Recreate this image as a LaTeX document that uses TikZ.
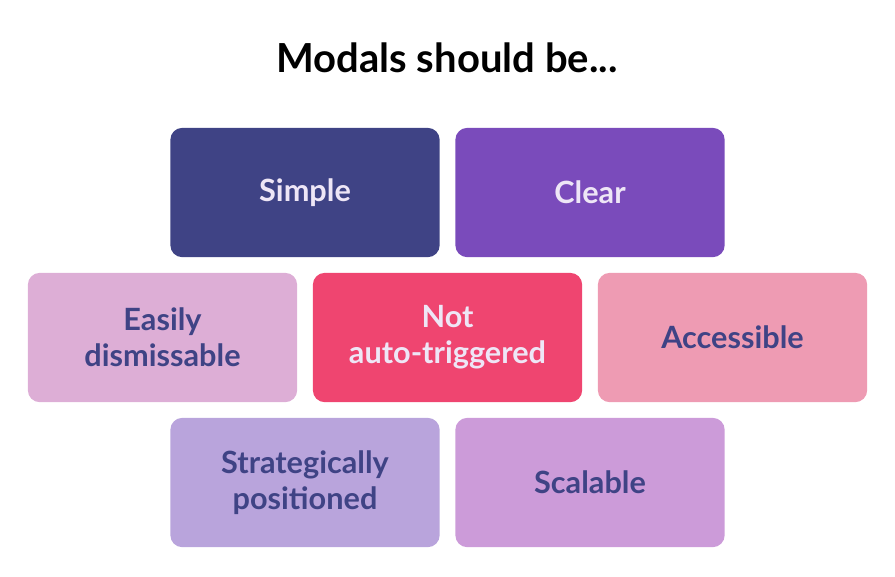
\documentclass[tikz,border=0pt]{standalone}
\usepackage{fontspec}
\setmainfont{Lato}
\definecolor{navy}{HTML}{3F4385}
\definecolor{violet}{HTML}{7A4BBB}
\definecolor{lilac}{HTML}{DDAED6}
\definecolor{rose}{HTML}{EF4570}
\definecolor{blush}{HTML}{EE9BB3}
\definecolor{lavender}{HTML}{B9A4DC}
\definecolor{orchid}{HTML}{CC9BD9}
\definecolor{paletext}{HTML}{EEE6F6}
\begin{document}
\begin{tikzpicture}[
        x=0.75pt, y=-0.75pt,
        % boxes with rounded corners
        card/.style={
            rounded corners=9pt,
            minimum width=202pt,
            minimum height=97pt,
            align=center,
            inner sep=0pt,
            font=\fontsize{23}{27}\selectfont\bfseries
        },
        darkcard/.style={card, text=paletext},
        lightcard/.style={card, text=navy}
    ]
        \useasboundingbox (0,0) rectangle (895,576);

        % --- title ---
        \node[font=\fontsize{30}{36}\selectfont\bfseries] (title) at (447,58) {Modals should be...};

        % --- row 1 ---
        \node[darkcard, fill=navy] (simple) at (305,192.5) {Simple};
        \node[darkcard, fill=violet] (clear) at (590,192.5) {Clear};

        % --- row 2 ---
        \node[lightcard, fill=lilac] (easily) at (162.5,337.5) {Easily\\dismissable};
        \node[darkcard, fill=rose] (notauto) at (447.5,337.5) {Not\\auto-triggered};
        \node[lightcard, fill=blush] (access) at (732.5,337.5) {Accessible};

        % --- row 3 ---
        \node[lightcard, fill=lavender] (strat) at (305,482.5) {Strategically\\positioned};
        \node[lightcard, fill=orchid] (scal) at (590,482.5) {Scalable};
    \end{tikzpicture}
\end{document}
